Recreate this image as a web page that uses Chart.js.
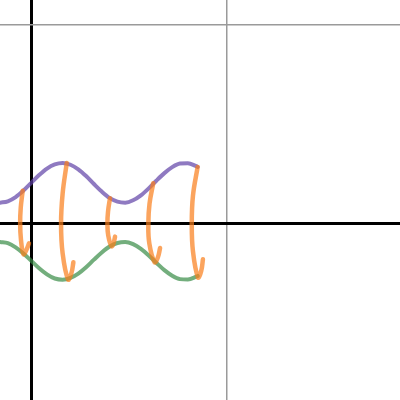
<!DOCTYPE html>
<html>
<head>
<meta charset="utf-8">
<script src="https://cdn.jsdelivr.net/npm/chart.js@4.4.1/dist/chart.umd.min.js"></script>
<style>
  body { margin: 0; background: #fff; }
  #box { width: 400px; height: 400px; }
</style>
</head>
<body>
<div id="box"><canvas id="newChart" width="400" height="400"></canvas></div>
<script>
// x positions (same for both waves)
const waveX = [-0.16, -0.12, -0.08, -0.04, 0, 0.04, 0.08, 0.12, 0.16, 0.20, 0.24, 0.28, 0.32,
  0.36, 0.40, 0.44, 0.48, 0.52, 0.56, 0.60, 0.64, 0.68, 0.72, 0.76, 0.80, 0.84, 0.85];

// upper (purple) wave
const purpleY = [0.105, 0.112, 0.133, 0.166, 0.205, 0.244, 0.277, 0.298, 0.305, 0.296, 0.273, 0.239, 0.199,
  0.161, 0.129, 0.110, 0.105, 0.117, 0.142, 0.177, 0.217, 0.254, 0.284, 0.302, 0.304, 0.290, 0.285];

// lower (green) wave
const greenY = [-0.093, -0.099, -0.120, -0.151, -0.188, -0.225, -0.256, -0.277, -0.283, -0.274, -0.252, -0.220, -0.182,
  -0.146, -0.116, -0.098, -0.093, -0.104, -0.128, -0.161, -0.199, -0.235, -0.263, -0.280, -0.282, -0.269, -0.264];

// orange hooks, one list of x and y per hook
const hookX = [
  [-0.044, -0.054, -0.057, -0.053, -0.040, -0.026, -0.012],
  [0.181, 0.160, 0.152, 0.160, 0.188, 0.205, 0.215],
  [0.402, 0.392, 0.389, 0.393, 0.410, 0.420, 0.428],
  [0.623, 0.604, 0.598, 0.603, 0.630, 0.647, 0.658],
  [0.850, 0.826, 0.820, 0.826, 0.852, 0.868, 0.877]
];
const hookY = [
  [0.165, 0.080, 0.000, -0.080, -0.155, -0.135, -0.100],
  [0.305, 0.150, 0.000, -0.150, -0.282, -0.250, -0.195],
  [0.127, 0.060, 0.000, -0.060, -0.115, -0.100, -0.066],
  [0.203, 0.100, 0.000, -0.100, -0.195, -0.170, -0.123],
  [0.285, 0.140, 0.000, -0.140, -0.272, -0.240, -0.180]
];

// grid lines that show in the view
const gridTicks = [0, 1];

function toPoints(xs, ys) {
  return xs.map((x, i) => ({ x: x, y: ys[i] }));
}

let datasets = [];

// hooks first so they sit on top of the waves
hookX.forEach(function(xs, i) {
  datasets.push({
    data: toPoints(xs, hookY[i]),
    borderColor: 'rgba(250, 126, 25, 0.7)',
    borderWidth: 4.5,
    tension: 0.4,
    borderCapStyle: 'round',
    borderJoinStyle: 'round'
  });
});

datasets.push({
  data: toPoints(waveX, purpleY),
  borderColor: 'rgba(96, 66, 166, 0.7)',
  borderWidth: 4,
  cubicInterpolationMode: 'monotone',
  borderCapStyle: 'round'
});

datasets.push({
  data: toPoints(waveX, greenY),
  borderColor: 'rgba(56, 140, 70, 0.7)',
  borderWidth: 4,
  cubicInterpolationMode: 'monotone',
  borderCapStyle: 'round'
});

function axisOptions(min, max) {
  return {
    type: 'linear',
    min: min,
    max: max,
    afterBuildTicks: function(scale) {
      scale.ticks = gridTicks.map((v) => ({ value: v }));
    },
    ticks: { display: false },
    border: { display: false },
    grid: {
      drawTicks: false,
      color: (c) => (c.tick && c.tick.value === 0 ? '#000000' : '#9a9a9a'),
      lineWidth: (c) => (c.tick && c.tick.value === 0 ? 3 : 1.5)
    }
  };
}

const ctx = document.getElementById('newChart').getContext('2d');
const myChart = new Chart(ctx, {
  type: 'scatter',
  data: { datasets: datasets },
  options: {
    responsive: false,
    animation: false,
    showLine: true,
    layout: { padding: 0 },
    elements: { point: { radius: 0 } },
    scales: {
      x: axisOptions(-0.16, 1.884),
      y: axisOptions(-0.889, 1.126)
    },
    plugins: {
      legend: { display: false },
      tooltip: { enabled: false }
    }
  }
});
</script>
</body>
</html>
